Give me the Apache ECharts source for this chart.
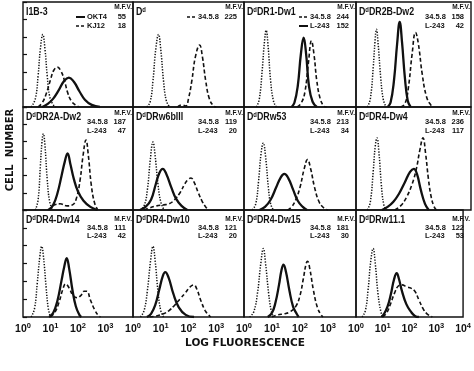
<!DOCTYPE html>
<html><head><meta charset="utf-8">
<script src="https://cdn.jsdelivr.net/npm/echarts@6/dist/echarts.min.js"></script>
<style>html,body{margin:0;padding:0;background:#fff}#c{width:474px;height:371px}</style>
</head><body><div id="c"></div>
<script>
// ---- data (x = log10 fluorescence, y = % of panel height) ----
const xTickLabels = ['0','1','2','3','4'];
const panelPrefix = ['I1B-3','D','D','D','D','D','D','D','D','D','D','D'];
const panelSup    = ['','d','d','d','d','d','d','d','d','d','d','d'];
const panelRest   = ['','','DR1-Dw1','DR2B-Dw2','DR2A-Dw2','DRw6bIII','DRw53','DR4-Dw4','DR4-Dw14','DR4-Dw10','DR4-Dw15','DRw11.1'];
// MFV legend rows: [label, value, lineSample]
const mfvRows = [
  [['OKT4',55,'solid'],['KJ12',18,'dashed']],
  [['34.5.8',225,'dashed']],
  [['34.5.8',244,'dashed'],['L-243',152,'solid']],
  [['34.5.8',158,null],['L-243',42,null]],
  [['34.5.8',187,null],['L-243',47,null]],
  [['34.5.8',119,null],['L-243',20,null]],
  [['34.5.8',213,null],['L-243',34,null]],
  [['34.5.8',236,null],['L-243',117,null]],
  [['34.5.8',111,null],['L-243',42,null]],
  [['34.5.8',121,null],['L-243',20,null]],
  [['34.5.8',181,null],['L-243',30,null]],
  [['34.5.8',122,null],['L-243',53,null]]
];
const dotted = [
  [[0.3,0],[0.45,8],[0.55,30],[0.63,55],[0.72,69],[0.8,55],[0.88,30],[0.97,10],[1.1,2],[1.2,0]],
  [[0.5,0],[0.62,5],[0.72,25],[0.82,55],[0.92,69],[1.0,55],[1.1,25],[1.2,6],[1.32,0]],
  [[0.45,0],[0.55,8],[0.65,35],[0.73,62],[0.79,73],[0.86,58],[0.95,25],[1.05,6],[1.15,0]],
  [[0.4,0],[0.5,8],[0.6,38],[0.66,62],[0.71,74],[0.77,60],[0.86,28],[0.95,7],[1.05,0]],
  [[0.45,0],[0.55,10],[0.63,42],[0.69,66],[0.74,74],[0.8,62],[0.88,30],[0.97,8],[1.08,0]],
  [[0.25,0],[0.4,4],[0.52,20],[0.62,48],[0.72,66],[0.8,52],[0.9,25],[1.0,8],[1.12,0]],
  [[0.3,0],[0.42,6],[0.52,28],[0.61,55],[0.69,65],[0.77,52],[0.87,22],[0.95,6],[1.05,0]],
  [[0.4,0],[0.5,8],[0.6,38],[0.67,62],[0.73,70],[0.8,55],[0.88,25],[0.96,6],[1.04,0]],
  [[0.3,0],[0.42,8],[0.52,32],[0.61,56],[0.68,66],[0.75,55],[0.84,28],[0.92,8],[1.0,0]],
  [[0.27,0],[0.4,6],[0.52,25],[0.63,52],[0.72,66],[0.8,52],[0.9,24],[1.0,6],[1.1,0]],
  [[0.2,0],[0.35,5],[0.48,22],[0.6,50],[0.69,64],[0.77,50],[0.88,22],[0.97,6],[1.05,0]],
  [[0.23,0],[0.35,6],[0.45,25],[0.55,52],[0.64,64],[0.72,50],[0.82,22],[0.92,6],[1.0,0]]
];
const dashed = [
  [[0.55,0],[0.7,4],[0.85,13],[1.0,26],[1.12,35],[1.25,38],[1.38,34],[1.5,26],[1.62,14],[1.75,6],[1.9,2],[2.05,0]],
  [[1.6,0],[1.75,2],[1.9,1],[2.0,8],[2.12,25],[2.25,48],[2.4,59],[2.5,48],[2.62,25],[2.75,8],[2.9,1],[3.0,0]],
  [[1.9,0],[2.05,4],[2.18,15],[2.3,42],[2.41,63],[2.5,50],[2.6,25],[2.72,8],[2.85,1],[2.95,0]],
  [[1.55,0],[1.7,3],[1.82,18],[1.95,50],[2.07,71],[2.17,60],[2.3,32],[2.45,10],[2.6,2],[2.7,0]],
  [[0.9,0],[1.0,2],[1.15,5],[1.35,6],[1.6,4],[1.8,5],[1.95,12],[2.08,30],[2.18,52],[2.29,68],[2.38,52],[2.48,25],[2.6,7],[2.72,0]],
  [[0.4,0],[0.6,2],[0.85,4],[1.1,5],[1.3,6],[1.5,10],[1.7,17],[1.88,26],[2.0,30],[2.09,31],[2.2,27],[2.35,17],[2.5,8],[2.62,3],[2.73,0]],
  [[1.55,0],[1.7,3],[1.85,10],[2.0,22],[2.15,40],[2.27,49],[2.38,40],[2.52,22],[2.68,8],[2.85,2],[3.0,0]],
  [[1.35,0],[1.55,4],[1.75,12],[1.95,25],[2.1,40],[2.22,58],[2.33,70],[2.42,55],[2.52,30],[2.62,12],[2.72,3],[2.8,0]],
  [[1.0,0],[1.15,4],[1.3,13],[1.45,26],[1.55,31],[1.68,27],[1.82,20],[1.97,18],[2.1,20],[2.22,24],[2.32,24],[2.45,16],[2.6,7],[2.75,1],[2.82,0]],
  [[0.6,0],[0.85,1],[1.1,3],[1.3,6],[1.5,11],[1.7,17],[1.9,23],[2.05,28],[2.19,30],[2.3,26],[2.45,15],[2.6,6],[2.72,2],[2.8,0]],
  [[1.0,0],[1.2,2],[1.45,3],[1.65,5],[1.85,10],[2.0,20],[2.12,36],[2.22,50],[2.27,52],[2.35,45],[2.48,25],[2.62,9],[2.75,2],[2.82,0]],
  [[1.0,0],[1.15,4],[1.3,13],[1.45,23],[1.58,29],[1.72,30],[1.9,28],[2.05,27],[2.2,24],[2.35,16],[2.5,8],[2.65,3],[2.85,0]]
];
const solid = [
  [[0.7,0],[0.9,3],[1.1,8],[1.3,16],[1.5,25],[1.67,28],[1.85,24],[2.05,15],[2.25,7],[2.5,2],[2.8,0]],
  null,
  [[1.7,0],[1.8,4],[1.92,20],[2.03,50],[2.13,66],[2.22,50],[2.32,20],[2.45,5],[2.6,0]],
  [[1.1,0],[1.2,4],[1.32,25],[1.43,60],[1.52,81],[1.6,62],[1.7,28],[1.8,6],[1.9,0]],
  [[0.95,0],[1.1,5],[1.25,16],[1.4,33],[1.52,47],[1.62,55],[1.72,45],[1.85,30],[2.0,18],[2.2,9],[2.45,3],[2.7,0]],
  [[0.25,0],[0.45,3],[0.65,10],[0.82,25],[0.95,36],[1.07,40],[1.2,35],[1.38,22],[1.55,11],[1.75,4],[1.96,0]],
  [[0.55,0],[0.75,3],[0.95,10],[1.15,22],[1.3,31],[1.44,35],[1.58,31],[1.75,20],[1.92,9],[2.1,3],[2.25,0]],
  [[0.9,0],[1.1,3],[1.3,8],[1.5,16],[1.7,27],[1.88,37],[2.01,40],[2.12,35],[2.25,20],[2.4,6],[2.53,0]],
  [[0.95,0],[1.1,4],[1.25,15],[1.4,34],[1.5,47],[1.59,55],[1.68,45],[1.8,25],[1.92,10],[2.05,2],[2.12,0]],
  [[0.5,0],[0.65,3],[0.8,11],[0.95,26],[1.07,38],[1.16,42],[1.28,37],[1.45,22],[1.65,9],[1.9,2],[2.2,0]],
  [[0.85,0],[1.0,4],[1.12,13],[1.25,30],[1.34,44],[1.41,49],[1.5,42],[1.62,25],[1.75,10],[1.88,3],[1.95,0]],
  [[0.95,0],[1.05,3],[1.18,10],[1.3,21],[1.42,35],[1.52,41],[1.6,36],[1.72,24],[1.88,12],[2.05,5],[2.2,1],[2.35,0]]
];

// ---- layout ----
const colLeft = [23,133,244,356], colW = [110,111,112,115];
const rowTop = [2,107,210], rowH = [105,103,107];
const txtOff = [ {t:10,m:5,l1:15,l2:24}, {t:10.5,m:6,l1:15,l2:23.5}, {t:10.5,m:9,l1:18,l2:26} ];
const FONT = 'DejaVu Sans';
const NFONT = 'Liberation Sans';
const INK = '#111';
const styles = {
  dotted: {width:1.5, type:[1.3,1.5]},
  dashed: {width:1.6, type:[4,2.5]},
  solid:  {width:2.3, type:'solid'}
};

const grids=[], xAxes=[], yAxes=[], series=[], graphics=[];
for (let i=0;i<12;i++){
  const r=Math.floor(i/4), c=i%4;
  const L=colLeft[c], T=rowTop[r], W=colW[c], H=rowH[r], R=L+W;
  grids.push({left:L, top:T, width:W, height:H, show:true, borderColor:INK, borderWidth:1.4, backgroundColor:'transparent'});
  xAxes.push({type:'value', gridIndex:i, min:0, max:4, interval:1,
    axisLine:{show:false}, axisTick:{show:false}, splitLine:{show:false},
    axisLabel:{show:r===2, margin:5, showMaxLabel:c===3, showMinLabel:true,
      formatter:v=>'{b|10}{s|'+xTickLabels[Math.round(v)]+'}',
      rich:{b:{fontFamily:NFONT,fontSize:10.5,fontWeight:'bold',color:INK,verticalAlign:'bottom'},
            s:{fontFamily:NFONT,fontSize:7.5,fontWeight:'bold',color:INK,verticalAlign:'bottom',padding:[0,0,5,0]}}}});
  yAxes.push({type:'value', gridIndex:i, min:0, max:100, interval:100/6,
    axisLine:{show:false}, splitLine:{show:false}, axisLabel:{show:false},
    axisTick:{show:c===0, inside:true, length:4, lineStyle:{color:INK,width:1.2}}});
  const add=(d,k)=>{ if(!d) return; series.push({type:'line', xAxisIndex:i, yAxisIndex:i, data:d, smooth:0.45,
    showSymbol:false, silent:true, lineStyle:{color:INK, width:styles[k].width, type:styles[k].type}}); };
  add(dotted[i],'dotted'); add(dashed[i],'dashed'); add(solid[i],'solid');

  const o=txtOff[r];
  // title
  graphics.push({type:'text', x:L+3, y:T+o.t, scaleX:0.84, originX:0, originY:0, style:{
    text: panelSup[i] ? '{b|'+panelPrefix[i]+'}{s|'+panelSup[i]+'}{b|'+panelRest[i]+'}' : '{b|'+panelPrefix[i]+'}',
    verticalAlign:'middle', align:'left',
    rich:{b:{fontFamily:NFONT,fontSize:10.5,fontWeight:'bold',fill:INK,verticalAlign:'bottom'},
          s:{fontFamily:NFONT,fontSize:7,fontWeight:'bold',fill:INK,verticalAlign:'bottom',padding:[0,0,4,0]}}}});
  // M.F.V.
  graphics.push({type:'text', x:R-1, y:T+o.m, style:{text:'M.F.V.', fontFamily:NFONT, fontSize:6.5, fontWeight:'bold',
    fill:INK, align:'right', verticalAlign:'middle'}});
  mfvRows[i].forEach((row,j)=>{
    const y=T+(j===0?o.l1:o.l2);
    graphics.push({type:'text', x:R-46, y:y, style:{text:row[0], fontFamily:NFONT, fontSize:7.5, fontWeight:'bold', fill:INK, align:'left', verticalAlign:'middle'}});
    graphics.push({type:'text', x:R-7, y:y, style:{text:String(row[1]), fontFamily:NFONT, fontSize:7.5, fontWeight:'bold', fill:INK, align:'right', verticalAlign:'middle'}});
    if(row[2]){
      graphics.push({type:'line', shape:{x1:R-57,y1:y,x2:R-48,y2:y},
        style:{stroke:INK, lineWidth:row[2]==='solid'?2:1.4, lineDash:row[2]==='solid'?null:[3,2]}});
    }
  });
}
graphics.push({type:'text', x:245, y:343, style:{text:'LOG FLUORESCENCE', fontFamily:FONT, fontSize:10.5, fontWeight:'bold', fill:INK, align:'center', verticalAlign:'middle'}});
graphics.push({type:'text', x:10, y:150, rotation:Math.PI/2, style:{text:'CELL  NUMBER', fontFamily:FONT, fontSize:10, fontWeight:'bold', fill:INK, align:'center', verticalAlign:'middle'}});

const chart = echarts.init(document.getElementById('c'), null, {renderer:'canvas'});
chart.setOption({animation:false, backgroundColor:'#fff', grid:grids, xAxis:xAxes, yAxis:yAxes, series:series, graphic:graphics});
</script></body></html>
